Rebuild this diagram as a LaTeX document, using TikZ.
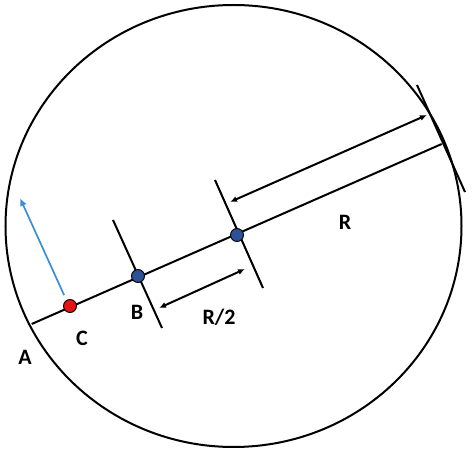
\documentclass[tikz,border=0pt]{standalone}
\usepackage{fontspec}
\setmainfont{Carlito}
\usetikzlibrary{arrows.meta}
\definecolor{ptblue}{RGB}{45,80,150}
\definecolor{ptred}{RGB}{230,20,20}
\definecolor{velblue}{RGB}{58,142,214}
\tikzset{
  thinline/.style={line width=2pt},
  dimline/.style={line width=2pt, {Latex[length=7pt,width=6pt]}-{Latex[length=7pt,width=6pt]}},
  dotnode/.style={circle, draw=black, line width=0.9pt, inner sep=0pt, minimum size=13pt},
  lbl/.style={font=\fontsize{22}{26}\selectfont\bfseries},
}
\begin{document}
\begin{tikzpicture}[x=1pt,y=-1pt]
    \useasboundingbox (0,0) rectangle (474,454);
    % Circle
    \draw[thinline] (233.5,226) ellipse [x radius=228, y radius=221];
    % Diameter end points
    \coordinate (A) at (31.7,324);
    \coordinate (E) at (441.7,144);
    \draw[thinline] (A) -- (E);
    % Cross lines
    \coordinate (tB1) at (113,220);
    \coordinate (tB2) at (162,328);
    \coordinate (tO1) at (215,180);
    \coordinate (tO2) at (263,288);
    \coordinate (tE1) at (417,85);
    \coordinate (tE2) at (465,192);
    \draw[thinline] (tB1) -- (tB2);
    \draw[thinline] (tO1) -- (tO2);
    \draw[thinline] (tE1) -- (tE2);
    % Points
    \node[dotnode, fill=ptred] (C) at (70,306) {};
    \node[dotnode, fill=ptblue] (B) at (138,276) {};
    \node[dotnode, fill=ptblue] (O) at (237,235) {};
    % Dimension arrows
    \coordinate (r1) at (230,202);
    \coordinate (r2) at (427,115);
    \coordinate (h1) at (159,308);
    \coordinate (h2) at (245,269);
    \draw[dimline] (r1) -- (r2);
    \draw[dimline] (h1) -- (h2);
    % Velocity arrow
    \coordinate (vtip) at (20,198);
    \draw[velblue, line width=1.7pt, -{Latex[length=8pt,width=7pt]}] (C.north west) ++(-1,-6) -- (vtip);
    % Labels
    \node[lbl] (lblA) at (25,357) {A};
    \node[lbl] (lblC) at (82,338) {C};
    \node[lbl] (lblB) at (137,312) {B};
    \node[lbl] (lblH) at (219,317) {R/2};
    \node[lbl] (lblR) at (345,222) {R};
\end{tikzpicture}
\end{document}
